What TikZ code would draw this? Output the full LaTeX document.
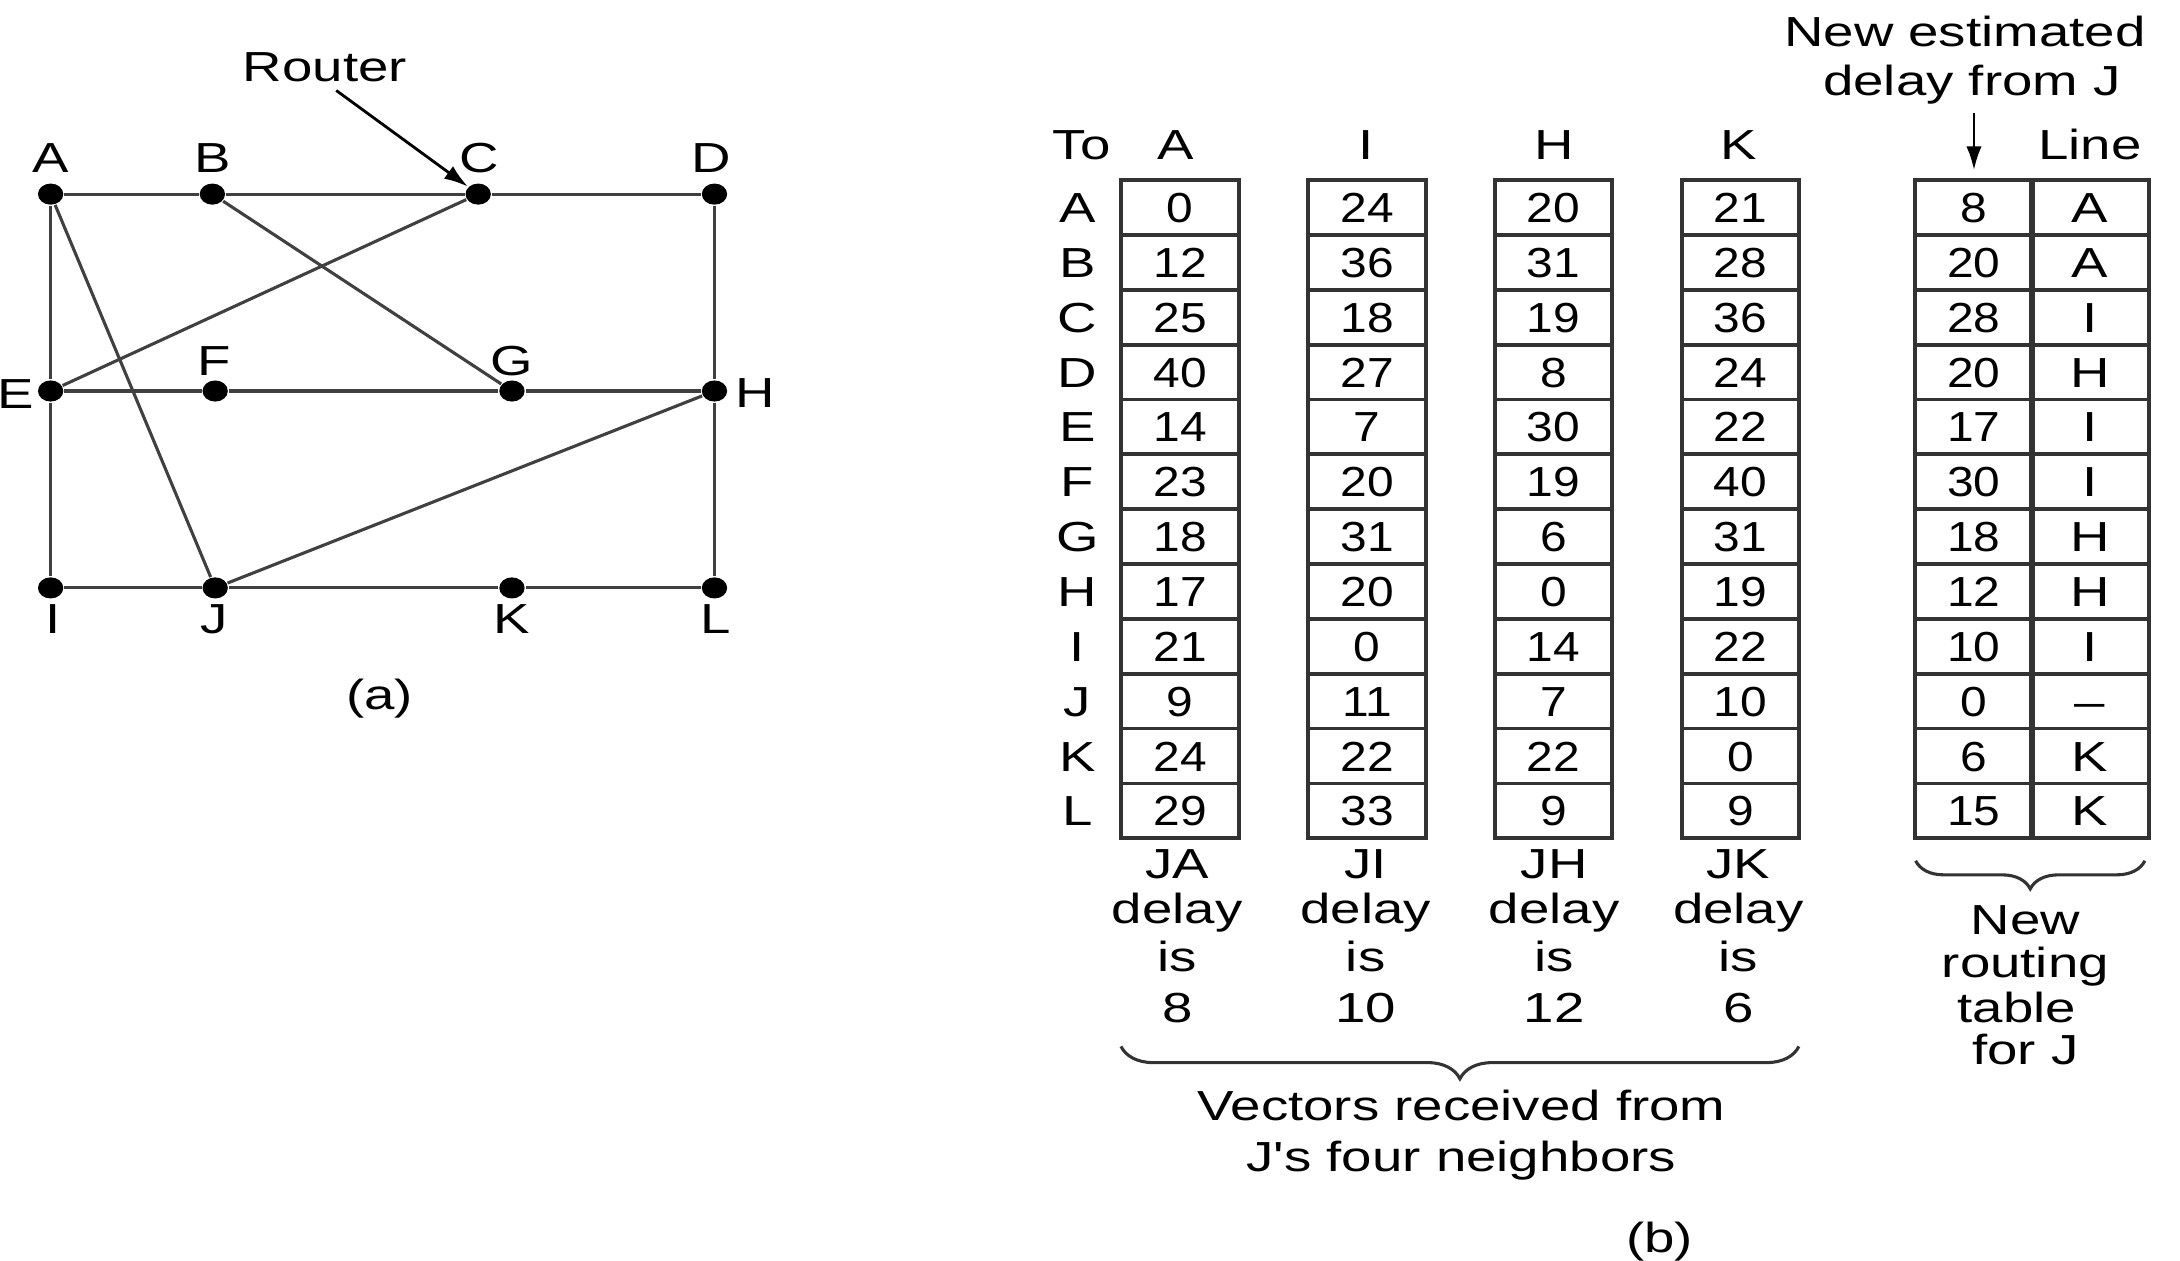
\documentclass[tikz,border=0pt]{standalone}
\usepackage{fontspec}
\setmainfont{Liberation Sans}[FakeStretch=1.3]
\newfontfamily\digitfont{Liberation Sans}[FakeStretch=1.14]
\newfontfamily\apofont{Liberation Sans}[FakeStretch=1.3,Ligatures=TeXOff]
\usetikzlibrary{shapes.geometric,arrows.meta,decorations.pathreplacing}
\begin{document}
\begin{tikzpicture}[x=0.1mm,y=-0.1mm,
  dot/.style={ellipse,fill=black,minimum width=1.8mm,minimum height=1.5mm,inner sep=0pt},
  lbl/.style={font=\fontsize{8.5}{10}\selectfont,inner sep=0pt,text height=6.1pt,text depth=0pt},
  edge/.style={line width=0.22mm,draw=black!75},
  arr/.style={line width=0.2mm,draw=black,-{Latex[length=1.7mm,width=1.1mm]}},
  cell/.style={draw=black!80,line width=0.27mm,minimum width=8.35mm,minimum height=3.9mm,inner sep=0pt,outer sep=0pt,
     font=\fontsize{8.5}{10}\selectfont\digitfont,text height=6.1pt,text depth=0pt},
  brc/.style={line width=0.22mm,draw=black!80,decorate},
  ]
\useasboundingbox (0,0) rectangle (1550,896);

% ---------- (a) network ----------
\foreach \n/\x/\y in {A/36/138,B/151/138,C/340/138,D/508/138,
                      E/36/278,F/153/278,G/364/278,H/508/278,
                      I/36/418,J/153/418,K/364/418,L/508/418}
  \node[dot] (\n) at (\x,\y) {};

\draw[edge] (A) -- (B) -- (C) -- (D) -- (H) -- (L) -- (K) -- (J) -- (I) -- (E) -- (A);
\draw[edge] (E) -- (F) -- (G) -- (H);
\draw[edge] (A) -- (J);
\draw[edge] (B) -- (G);
\draw[edge] (C) -- (E);
\draw[edge] (J) -- (H);

\foreach \n/\x/\y in {A/36/112,B/151/112,C/341/112,D/506/112,
                      E/11/280,F/152/256,G/364/256,H/537/279,
                      I/38/440,J/152/440,K/364/440,L/509/440}
  \node[lbl] (l\n) at (\x,\y) {\n};

\node[lbl] (router) at (231,47) {Router};
\draw[arr,shorten <=1.0mm] (router.south) -- (C);
\node[lbl] (capa) at (270,494) {(a)};

% ---------- (b) tables ----------
\node[lbl] (hTo) at (769,103) {To};
\node[lbl] (hA) at (836,103) {A};
\node[lbl] (hI) at (971,103) {I};
\node[lbl] (hH) at (1105,103) {H};
\node[lbl] (hK) at (1236,103) {K};
\node[lbl] (hLine) at (1486,103) {Line};

\foreach \r [count=\i from 0] in {A,B,C,D,E,F,G,H,I,J,K,L}
  \node[lbl] (row\r) at (766,{147.5+39*\i}) {\r};

\foreach \cn/\cx/\vals in {
  ja/839/{0,12,25,40,14,23,18,17,21,9,24,29},
  ji/972/{24,36,18,27,7,20,31,20,0,11,22,33},
  jh/1104.5/{20,31,19,8,30,19,6,0,14,7,22,9},
  jk/1237.5/{21,28,36,24,22,40,31,19,22,10,0,9},
  nd/1403.5/{8,20,28,20,17,30,18,12,10,0,6,15}}
{
  \foreach \v [count=\i from 0] in \vals
    \node[cell] (\cn-\i) at (\cx,{147.5+39*\i}) {\v};
}
\foreach \v [count=\i from 0] in {A,A,I,H,I,I,H,H,I,--,K,K}
  \node[cell,font=\fontsize{8.5}{10}\selectfont] (nl-\i) at (1486,{147.5+39*\i}) {\v};

% labels under columns
\foreach \cn/\cx/\a/\d in {ja/837/JA/8, ji/971/JI/10, jh/1105/JH/12, jk/1236/JK/6}
{
  \node[lbl] (\cn-t1) at (\cx,614) {\a};
  \node[lbl] (\cn-t2) at (\cx,646) {delay};
  \node[lbl] (\cn-t3) at (\cx,680) {is};
  \node[lbl] (\cn-t4) at (\cx,716) {\d};
}

% brace under neighbour vectors
\coordinate (b1) at (797,744);
\coordinate (b2) at (1279,744);
\draw[brc,decoration={brace,mirror,amplitude=2.3mm}] (b1) -- (b2);
\node[lbl] (vec1) at (1039,786) {Vectors received from};
\node[lbl] (vec2) at (1039,822) {J{\apofont'}s four neighbors};

% brace under new table
\coordinate (b3) at (1362,612);
\coordinate (b4) at (1525,612);
\draw[brc,decoration={brace,mirror,amplitude=2.0mm}] (b3) -- (b4);
\node[lbl] (nt1) at (1440,654) {New};
\node[lbl] (nt2) at (1440,684) {routing};
\node[lbl] (nt3) at (1434,716) {table};
\node[lbl] (nt4) at (1440,746) {for J};

% new estimated delay
\node[lbl] (ne1) at (1397,22) {New estimated};
\node[lbl] (ne2) at (1402,57) {delay from J};
\draw[arr,shorten <=1.2mm,shorten >=0.7mm] (ne2.south -| nd-0.north) -- (nd-0.north);

\node[lbl] (capb) at (1180,880) {(b)};
\end{tikzpicture}
\end{document}
